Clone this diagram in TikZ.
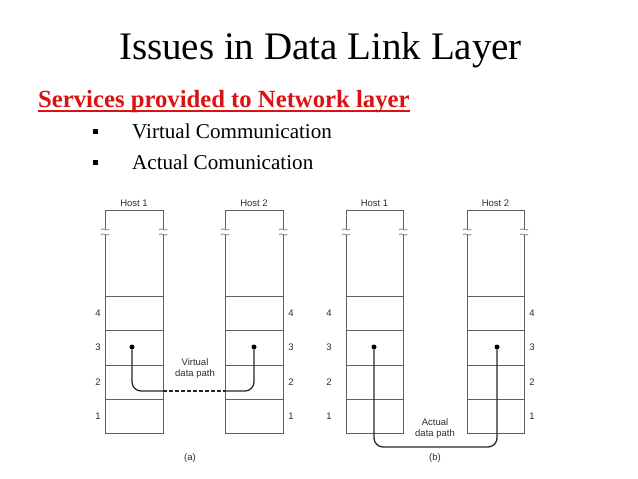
\documentclass[tikz,border=0pt]{standalone}
\usepackage{fontspec}
\setmainfont{Liberation Serif}
\newfontfamily\diagfont{Liberation Sans}
\definecolor{headred}{RGB}{218,18,18}
\definecolor{boxgray}{RGB}{95,95,95}
\definecolor{labgray}{RGB}{45,45,45}
\newcommand\hoststack[3]{% left, right, name
  \draw[boxline] (#1,229) -- (#1,210) -- (#2,210) -- (#2,229);
  \draw[boxline] (#1,235) -- (#1,433) -- (#2,433) -- (#2,235);
  \foreach \yy in {296,330,365,399}{\draw[boxline] (#1,\yy) -- (#2,\yy);}
  \foreach \xx in {#1,#2}{
    \draw[breakline] (\xx-4,229.5) .. controls (\xx-1.5,227.5) and (\xx+1.5,231.5) .. (\xx+4,229.5);
    \draw[breakline] (\xx-4,234.5) .. controls (\xx-1.5,232.5) and (\xx+1.5,236.5) .. (\xx+4,234.5);
  }
  \node[hostlab] (#3) at ({(#1+#2)/2},203) {#3};
}
\begin{document}
\begin{tikzpicture}[x=1pt,y=-1pt,
  boxline/.style={draw=boxgray,line width=0.7pt},
  breakline/.style={draw=boxgray,line width=0.6pt},
  hostlab/.style={font=\diagfont\fontsize{9.5}{10}\selectfont,text=labgray,inner sep=0pt},
  numlab/.style={font=\diagfont\fontsize{9.5}{10}\selectfont,text=labgray,inner sep=0pt},
  pathlab/.style={font=\diagfont\fontsize{9.5}{11}\selectfont,text=labgray,align=center,inner sep=0pt},
  dot/.style={circle,fill=black,inner sep=0pt,minimum size=5pt},
  datapath/.style={draw=black!85,line width=1.3pt,rounded corners=9pt},
  bulletsq/.style={fill=black,inner sep=0pt,minimum size=5pt},
  bullettext/.style={font=\fontsize{21.1}{24}\selectfont,anchor=base west,inner sep=0pt}]
\useasboundingbox[fill=white] (0,0) rectangle (638,479);
% title and text
\node[anchor=base,inner sep=0pt,font=\fontsize{39}{44}\selectfont] (title) at (320.5,59) {Issues in Data Link Layer};
\node[anchor=base west,inner sep=0pt,text=headred,font=\bfseries\fontsize{24.7}{28}\selectfont] (head) at (38,107) {Services provided to Network layer};
\draw[headred,line width=1.4pt] ([yshift=-4pt]head.base west) -- ([yshift=-4pt]head.base east);
\node[bulletsq] (b1sq) at (95.5,131.5) {};
\node[bullettext] (vc) at (132,138) {Virtual Communication};
\node[bulletsq] (b2sq) at (95.5,162.5) {};
\node[bullettext] (ac) at (132,169) {Actual Comunication};
% (a)
\hoststack{105}{163}{Host 1}
\hoststack{225}{283}{Host 2}
\foreach \n/\yy in {4/313,3/347.5,2/382,1/416}{
  \node[numlab] (al\n) at (98,\yy) {\n};
  \node[numlab] (ar\n) at (291,\yy) {\n};
}
\node[dot] (da1) at (132,347) {};
\node[dot] (da2) at (254,347) {};
\coordinate (ja1) at (163,391);
\coordinate (ja2) at (225,391);
\draw[datapath] (da1) |- (ja1);
\draw[draw=black!85,line width=1.3pt,dashed,dash pattern=on 3.5pt off 2.5pt] (ja1) -- (ja2);
\draw[datapath] (ja2) -| (da2);
\node[pathlab] (vlab) at (195,368.5) {Virtual\\data path};
\node[pathlab] (capa) at (190,458) {(a)};
% (b)
\begin{scope}
\hoststack{346}{403}{Host 1 }
\hoststack{467}{524}{Host 2 }
\end{scope}
\foreach \n/\yy in {4/313,3/347.5,2/382,1/416}{
  \node[numlab] (bl\n) at (329,\yy) {\n};
  \node[numlab] (br\n) at (532,\yy) {\n};
}
\node[dot] (db1) at (374,347) {};
\node[dot] (db2) at (497,347) {};
\coordinate (jb) at (435,447);
\draw[datapath] (db1) |- (jb) -| (db2);
\node[pathlab] (alab) at (435,429) {Actual\\data path};
\node[pathlab] (capb) at (435,458) {(b)};
\end{tikzpicture}
\end{document}
